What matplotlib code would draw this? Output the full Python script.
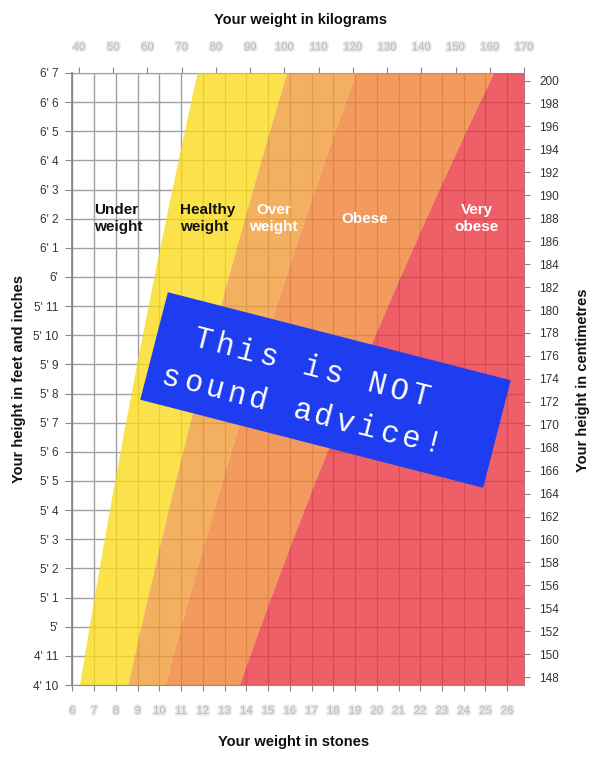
import numpy as np
import matplotlib
matplotlib.use('Agg')
import matplotlib.pyplot as plt
import matplotlib.patheffects as pe
from matplotlib.patches import Rectangle

plt.rcParams['font.family'] = ['Liberation Sans', 'DejaVu Sans']

# chart data
stone_ticks = list(range(6, 27))
kg_ticks = [40, 50, 60, 70, 80, 90, 100, 110, 120, 130, 140, 150, 160, 170]
inch_ticks = list(range(58, 80))
height_labels = ["4' 10", "4' 11", "5'", "5' 1", "5' 2", "5' 3", "5' 4", "5' 5",
                 "5' 6", "5' 7", "5' 8", "5' 9", "5' 10", "5' 11", "6'", "6' 1",
                 "6' 2", "6' 3", "6' 4", "6' 5", "6' 6", "6' 7"]
cm_ticks = list(range(148, 201, 2))
bmi_cutoffs = [18.5, 25, 30, 40]
band_names = ['Under\nweight', 'Healthy\nweight', 'Over\nweight', 'Obese', 'Very\nobese']
warning_lines = ['This is NOT', 'sound advice!']

# styling
band_colors = ['#FBDB18', '#F29A34', '#F07E31', '#EA323C']
label_pos = [(6.99, 74.0, 'left', '#111111'), (10.93, 74.0, 'left', '#111111'),
             (15.24, 74.0, 'center', 'white'), (19.46, 74.0, 'center', 'white'),
             (24.6, 74.0, 'center', 'white')]
KG_PER_STONE = 6.35
x_max = 170 / KG_PER_STONE

fig = plt.figure(figsize=(6, 7.57), dpi=100)
ax = fig.add_axes([0.1208, 0.0951, 0.7525, 0.8085])

heights = np.linspace(58, 79, 200)
h_m = heights * 0.0254
edges = [b * h_m ** 2 / KG_PER_STONE for b in bmi_cutoffs] + [np.full_like(heights, x_max)]
for i, color in enumerate(band_colors):
    ax.fill_betweenx(heights, edges[i], edges[i + 1], color=color, alpha=0.78,
                     lw=0, zorder=2)

ax.set_xlim(6, x_max)
ax.set_ylim(58, 79)
ax.set_xticks(stone_ticks)
ax.set_xticklabels([str(s) for s in stone_ticks])
ax.set_yticks(inch_ticks)
ax.set_yticklabels(height_labels)
ax.set_axisbelow(True)
ax.grid(True, color='#a0a0a0', lw=1.0)

ax.tick_params(axis='x', direction='out', length=4, color='#888888', labelsize=8,
               labelcolor='#b8b8b8', pad=11)
ax.tick_params(axis='y', direction='out', length=5, color='#888888', labelsize=8.5,
               labelcolor='#333333', pad=5)
for lbl in ax.get_xticklabels():
    lbl.set_path_effects([pe.withStroke(linewidth=2.5, foreground='#e8e8e8')])

for side in ['top', 'right']:
    ax.spines[side].set_visible(False)
ax.spines['left'].set_color('#808080')
ax.spines['left'].set_linewidth(1.2)
ax.spines['bottom'].set_color('#909090')

top = ax.secondary_xaxis('top', functions=(lambda s: s * KG_PER_STONE,
                                           lambda k: k / KG_PER_STONE))
top.set_xticks(kg_ticks)
top.set_xticklabels([str(k) for k in kg_ticks])
top.tick_params(direction='out', length=4, color='#888888', labelsize=8,
                labelcolor='#b8b8b8', pad=11)
for lbl in top.get_xticklabels():
    lbl.set_path_effects([pe.withStroke(linewidth=2.5, foreground='#e8e8e8')])
for sp in top.spines.values():
    sp.set_color('#909090')

right = ax.secondary_yaxis('right', functions=(lambda i: i * 2.54, lambda c: c / 2.54))
right.set_yticks(cm_ticks)
right.set_yticklabels([str(c) for c in cm_ticks])
right.tick_params(direction='out', length=4, color='#888888', labelsize=8.5,
                  labelcolor='#333333', pad=7)
for sp in right.spines.values():
    sp.set_color('#a0a0a0')
    sp.set_linewidth(0.8)

for name, (x, y, ha, col) in zip(band_names, label_pos):
    ax.text(x, y, name, ha=ha, va='center', fontsize=11, fontweight='bold',
            color=col, linespacing=1.25, zorder=4)

# axis titles
fig.text(0.501, 0.9736, 'Your weight in kilograms', ha='center', va='center',
         fontsize=10.5, fontweight='bold', color='#111111')
fig.text(0.49, 0.0198, 'Your weight in stones', ha='center', va='center',
         fontsize=10.5, fontweight='bold', color='#111111')
fig.text(0.032, 0.4993, 'Your height in feet and inches', ha='center', va='center',
         rotation=90, fontsize=10.5, fontweight='bold', color='#111111')
fig.text(0.972, 0.498, 'Your height in centimetres', ha='center', va='center',
         rotation=90, fontsize=10.5, fontweight='bold', color='#111111')

# blue warning banner (inches on the figure)
angle = 14.4
box_w, box_h = 3.54, 1.11
cx, cy = 3.255, 3.67
banner = Rectangle((cx - box_w / 2, cy - box_h / 2), box_w, box_h, angle=-angle,
                   rotation_point='center', transform=fig.dpi_scale_trans,
                   facecolor='#1E3CF0', edgecolor='none', zorder=5)
fig.add_artist(banner)

rad = np.deg2rad(angle)
u = np.array([np.cos(rad), -np.sin(rad)])
line_centres = [np.array([3.095, 3.803]), np.array([2.995, 3.373])]
adv = 0.225
for line, centre in zip(warning_lines, line_centres):
    n = len(line)
    for j, ch in enumerate(line):
        if ch == ' ':
            continue
        p = centre + u * (j - (n - 1) / 2) * adv
        fig.text(p[0], p[1], ch, transform=fig.dpi_scale_trans, rotation=-angle,
                 rotation_mode='anchor', ha='center', va='baseline', fontsize=22,
                 family='Liberation Mono', color='white', zorder=6)

fig.savefig('out.png', dpi=100)
